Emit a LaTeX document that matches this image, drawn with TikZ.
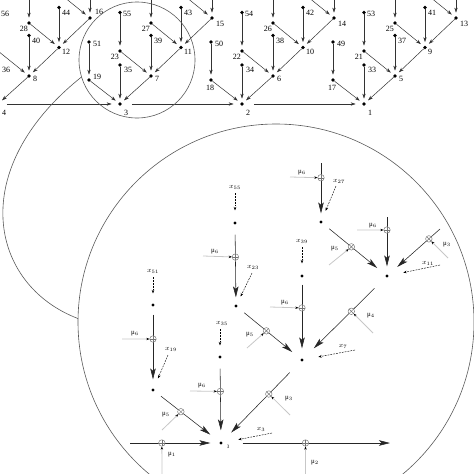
\documentclass[tikz,border=0pt]{standalone}
\usepackage{fontspec}
\setmainfont{Liberation Serif}
\usetikzlibrary{arrows.meta,calc}
\begin{document}
\begin{tikzpicture}[x=1pt,y=-1pt,
  tdot/.style={circle,fill=black,inner sep=0pt,outer sep=0pt,minimum size=3.8pt},
  tlab/.style={font=\fontsize{8}{9}\selectfont,inner sep=0pt},
  tedge/.style={draw=black!80,line width=0.5pt,-{Stealth[length=5pt,width=3.4pt]},shorten >=3.5pt},
  tmain/.style={tedge,shorten >=6.5pt,shorten <=10pt},
  zcirc/.style={circle,draw=black!65,line width=0.6pt,inner sep=0pt,outer sep=0pt},
  zline/.style={draw=black!65,line width=0.6pt},
  bdot/.style={circle,fill=black,inner sep=0pt,outer sep=0pt,minimum size=3.2pt},
  bedge/.style={draw=black!85,line width=0.55pt,-{Stealth[length=11pt,width=5.5pt,inset=2.5pt]}},
  mkbase/.style={circle,draw=black!55,fill=white,line width=0.45pt,inner sep=0pt,minimum size=6.5pt},
  mkp/.style={mkbase,path picture={\draw[black!55,line width=0.45pt] (path picture bounding box.north) -- (path picture bounding box.south) (path picture bounding box.east) -- (path picture bounding box.west);}},
  mkx/.style={mkbase,path picture={\draw[black!55,line width=0.45pt] (path picture bounding box.north east) -- (path picture bounding box.south west) (path picture bounding box.north west) -- (path picture bounding box.south east);}},
  muin/.style={draw=black!22,line width=0.8pt,-{Stealth[length=3.2pt,width=2.4pt,color=black]}},
  xin/.style={draw=black,line width=0.45pt,dash pattern=on 1.8pt off 1.1pt,-{Stealth[length=3.5pt,width=2.6pt]}},
  mulab/.style={font=\fontsize{7}{8}\selectfont,inner sep=0pt},
  xlab/.style={font=\fontsize{7}{8}\selectfont,inner sep=0pt}]
\useasboundingbox (0,0) rectangle (474,474);
\clip (0,0) rectangle (474,474);
% ---------------- top tree ----------------
\foreach \k/\X in {1/364,2/242,3/120,4/-2}{
  \pgfmathtruncatemacro\nA{\k+4}
  \pgfmathtruncatemacro\nB{\k+16}
  \pgfmathtruncatemacro\nC{\k+32}
  \pgfmathtruncatemacro\nD{\k+8}
  \pgfmathtruncatemacro\nE{\k+20}
  \pgfmathtruncatemacro\nF{\k+36}
  \pgfmathtruncatemacro\nG{\k+48}
  \pgfmathtruncatemacro\nH{\k+12}
  \pgfmathtruncatemacro\nI{\k+24}
  \pgfmathtruncatemacro\nJ{\k+40}
  \pgfmathtruncatemacro\nL{\k+52}
  \node[tdot] (t\k) at (\X,104) {};
  \node[tdot] (t\nA) at (\X+31,76) {};
  \node[tdot] (t\nB) at (\X-31,80) {};
  \node[tdot] (t\nC) at (\X,65) {};
  \node[tdot] (t\nD) at (\X+61,47.5) {};
  \node[tdot] (t\nE) at (\X,51) {};
  \node[tdot] (t\nF) at (\X+31,35.5) {};
  \node[tdot] (t\nG) at (\X-31,42) {};
  \node[tdot] (t\nH) at (\X+92,18) {};
  \node[tdot] (t\nI) at (\X+31,23) {};
  \node[tdot] (t\nJ) at (\X+61,7.5) {};
  \node[tdot] (t\nL) at (\X,12.5) {};
  \coordinate (u\k a) at (\X+61,-7);
  \coordinate (u\k b) at (\X+92,-21);
  \coordinate (u\k c) at (\X+31,-16);
  % labels
  \node[tlab,anchor=west] at (\X+4,113) {\k};
  \node[tlab,anchor=west] at (\X+35,79) {\nA};
  \ifnum\k<3 \node[tlab] at (\X-32,87.5) {\nB};\fi
  \node[tlab,anchor=west] at (\X+4,69.5) {\nC};
  \node[tlab,anchor=west] at (\X+64,52) {\nD};
  \ifnum\k<4 \node[tlab,anchor=east] at (\X-1,57) {\nE};\fi
  \node[tlab,anchor=west] at (\X+34,40.5) {\nF};
  \ifnum\k<4 \node[tlab,anchor=west] at (\X-27,44) {\nG};\fi
  \ifnum\k<4 \node[tlab,anchor=west] at (\X+96,23.5) {\nH};\fi
  \node[tlab,anchor=east] at (\X+30,28.5) {\nI};
  \node[tlab,anchor=west] at (\X+64,13) {\nJ};
  \node[tlab,anchor=west] at (\X+3,14) {\nL};
  % edges
  \draw[tedge] (t\nA) -- (t\k);
  \draw[tedge] (t\nB) -- (t\k);
  \draw[tedge] (t\nC) -- (t\k);
  \draw[tedge] (t\nD) -- (t\nA);
  \draw[tedge] (t\nE) -- (t\nA);
  \draw[tedge] (t\nF) -- (t\nA);
  \draw[tedge] (t\nG) -- (t\nB);
  \draw[tedge] (t\nH) -- (t\nD);
  \draw[tedge] (t\nI) -- (t\nD);
  \draw[tedge] (t\nJ) -- (t\nD);
  \draw[tedge] (t\nL) -- (t\nE);
  \draw[tedge] (u\k a) -- (t\nH);
  \draw[tedge] (u\k b) -- (t\nH);
  \draw[tedge] (u\k c) -- (t\nI);
}
\node[tlab,anchor=west] at (93,77) {19};
\node[tlab,anchor=west] at (95,12) {16};
\draw[tmain,shorten <=7pt] (t4) -- (t3);
\draw[tmain] (t3) -- (t2);
\draw[tmain] (t2) -- (t1);
% ---------------- zoom circles ----------------
\node[zcirc,minimum size=116pt] (zs) at (137,60) {};
\node[zcirc,minimum size=396pt] (zb) at (276,322) {};
\draw[zline] (zs.197) .. controls (-35,170) and (-10,285) .. (zb.179);
% ---------------- magnified view ----------------
\node[bdot] (B3) at (221,443) {};
\node[font=\fontsize{5}{6}\selectfont,inner sep=0pt] (L3) at (228,447) {3};
\node[bdot] (B7) at (302,360) {};
\node[bdot] (B11) at (387,276) {};
\node[bdot] (B19) at (153,390) {};
\node[bdot] (B23) at (236,306) {};
\node[bdot] (B27) at (321,222) {};
\node[bdot] (B35) at (220,357) {};
\node[bdot] (B39) at (302,276) {};
\node[bdot] (B51) at (153,305) {};
\node[bdot] (B55) at (235,223) {};
\coordinate (Sin) at (130,443);
\coordinate (Sout) at (390,443);
\coordinate (S15) at (440,229);
\coordinate (S43) at (387,217);
\coordinate (S27) at (321,163);
% main edges
\draw[bedge,shorten >=9pt] (Sin) -- (B3);
\draw[bedge,shorten <=20pt] (B3) -- (Sout);
\draw[bedge,shorten <=8.5pt,shorten >=12pt] (B19) -- (B3);
\draw[bedge,shorten <=10pt,shorten >=11pt] (B35) -- (B3);
\draw[bedge,shorten <=16pt,shorten >=13pt] (B7) -- (B3);
\draw[bedge,shorten <=9pt,shorten >=11pt] (B23) -- (B7);
\draw[bedge,shorten <=7pt,shorten >=10pt] (B39) -- (B7);
\draw[bedge,shorten <=16pt,shorten >=15pt] (B11) -- (B7);
\draw[bedge,shorten <=9pt,shorten >=11pt] (B27) -- (B11);
\draw[bedge,shorten >=8pt] (S43) -- (B11);
\draw[bedge,shorten >=12pt] (S15) -- (B11);
\draw[bedge,shorten >=7pt] (S27) -- (B27);
\draw[bedge,shorten <=10pt,shorten >=7pt] (B55) -- (B23);
\draw[bedge,shorten <=8pt,shorten >=9pt] (B51) -- (B19);
% markers
\node[mkp] (M1) at ($(Sin)!0.35!(B3)$) {};
\node[mkp] (M2) at ($(B3)!0.5!(Sout)$) {};
\node[mkx] (M193) at ($(B19)!0.41!(B3)$) {};
\node[mkp] (M353) at ($(B35)!0.40!(B3)$) {};
\node[mkx] (M73) at ($(B7)!0.41!(B3)$) {};
\node[mkx] (M237) at ($(B23)!0.46!(B7)$) {};
\node[mkp] (M397) at ($(B39)!0.38!(B7)$) {};
\node[mkx] (M117) at ($(B11)!0.42!(B7)$) {};
\node[mkx] (M2711) at ($(B27)!0.46!(B11)$) {};
\node[mkp] (M4311) at ($(S43)!0.22!(B11)$) {};
\node[mkx] (M1511) at ($(S15)!0.21!(B11)$) {};
\node[mkp] (M27) at ($(S27)!0.25!(B27)$) {};
\node[mkp] (M5523) at ($(B55)!0.41!(B23)$) {};
\node[mkp] (M5119) at ($(B51)!0.40!(B19)$) {};
% mu inputs
\coordinate (U1) at (162,476);
\coordinate (U2) at (305.5,476);
\coordinate (U193) at (162,430);
\coordinate (U353) at (190,391);
\coordinate (U73) at (290,415);
\coordinate (U237) at (247,348);
\coordinate (U397) at (270,307);
\coordinate (U117) at (373,333);
\coordinate (U2711) at (329,265);
\coordinate (U4311) at (357,230);
\coordinate (U1511) at (448,258);
\coordinate (U27) at (290,177);
\coordinate (U5523) at (203,256);
\coordinate (U5119) at (122,339);
\draw[muin] (U1) -- (M1);
\draw[muin] (U2) -- (M2);
\draw[muin] (U193) -- (M193);
\draw[muin] (U353) -- (M353);
\draw[muin] (U73) -- (M73);
\draw[muin] (U237) -- (M237);
\draw[muin] (U397) -- (M397);
\draw[muin] (U117) -- (M117);
\draw[muin] (U2711) -- (M2711);
\draw[muin] (U4311) -- (M4311);
\draw[muin] (U1511) -- (M1511);
\draw[muin] (U27) -- (M27);
\draw[muin] (U5523) -- (M5523);
\draw[muin] (U5119) -- (M5119);
\node[mulab] at (172,455) {μ$_1$};
\node[mulab] at (315,463) {μ$_2$};
\node[mulab] at (166,415) {μ$_5$};
\node[mulab] at (202,386) {μ$_6$};
\node[mulab] at (289,399) {μ$_3$};
\node[mulab] at (250,335) {μ$_5$};
\node[mulab] at (285,303) {μ$_6$};
\node[mulab] at (371,316) {μ$_4$};
\node[mulab] at (335,249) {μ$_5$};
\node[mulab] at (373,226) {μ$_6$};
\node[mulab] at (447,245) {μ$_3$};
\node[mulab] at (302,173) {μ$_6$};
\node[mulab] at (215,252) {μ$_6$};
\node[mulab] at (135,334) {μ$_6$};
% x inputs
\coordinate (X3) at (272,433);
\coordinate (X7) at (355,350);
\coordinate (X11) at (440,265);
\coordinate (X27) at (336,186);
\coordinate (X23) at (252,273);
\coordinate (X19) at (168,355);
\coordinate (X35) at (220,329);
\coordinate (X39) at (302,247);
\coordinate (X55) at (235,193);
\coordinate (X51) at (153,277);
\draw[xin,shorten >=16pt] (X3) -- (B3);
\draw[xin,shorten >=15pt] (X7) -- (B7);
\draw[xin,shorten >=15pt] (X11) -- (B11);
\draw[xin,shorten >=10.5pt] (X27) -- (B27);
\draw[xin,shorten >=9pt] (X23) -- (B23);
\draw[xin,shorten >=11pt] (X19) -- (B19);
\draw[xin,shorten >=10pt] (X35) -- (B35);
\draw[xin,shorten >=11pt] (X39) -- (B39);
\draw[xin,shorten >=11pt] (X55) -- (B55);
\draw[xin,shorten >=10pt] (X51) -- (B51);
\node[xlab] at (261,429) {$x_3$};
\node[xlab] at (343,346) {$x_7$};
\node[xlab] at (428,263) {$x_{11}$};
\node[xlab] at (339,181) {$x_{27}$};
\node[xlab] at (253,267) {$x_{23}$};
\node[xlab] at (171,349) {$x_{19}$};
\node[xlab] at (222,323) {$x_{35}$};
\node[xlab] at (302,241) {$x_{39}$};
\node[xlab] at (235,187) {$x_{55}$};
\node[xlab] at (153,271) {$x_{51}$};
\end{tikzpicture}
\end{document}
